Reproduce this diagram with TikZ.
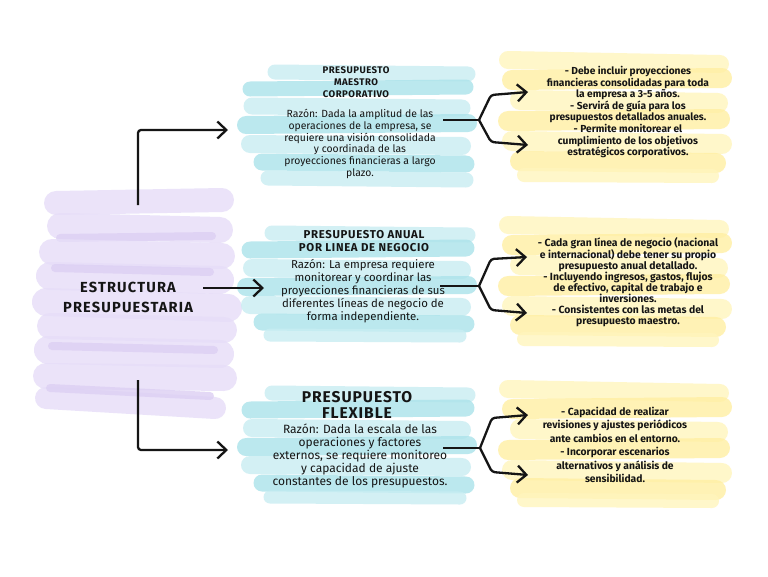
\documentclass[tikz,border=0pt]{standalone}
\usepackage{fontspec}
\setmainfont{Fira Sans}
\usetikzlibrary{arrows.meta,calc}
\definecolor{lav}{HTML}{E6DDF8}
\definecolor{lav2}{HTML}{DCCFF3}
\definecolor{aqua}{HTML}{C8EDF2}
\definecolor{aqua2}{HTML}{ABE3EA}
\definecolor{ylw}{HTML}{FFF5BD}
\definecolor{ylw2}{HTML}{FFEFA3}
\definecolor{ink}{HTML}{151515}
\begin{document}
\begin{tikzpicture}[x=1pt,y=-1pt,
  stripe/.style={line width=#1, line cap=round, opacity=.8},
  conn/.style={draw=ink, line width=2.3pt, rounded corners=3pt},
  arr/.style={conn, -{Straight Barb[length=9pt,width=17pt,line width=2.3pt]}},
  txt/.style={text=ink, align=center, inner sep=0pt}]
\useasboundingbox (0,0) rectangle (768,576);
\fill[white] (0,0) rectangle (768,576);

% purple brush block
\draw[stripe=24pt, lav] (56,203) -- (222,200);
\draw[stripe=26pt, lav] (60,226) -- (220,230);
\draw[stripe=8pt, lav2] (60,238) -- (212,236);
\draw[stripe=26pt, lav] (52,252) -- (222,256);
\draw[stripe=28pt, lav] (50,276) -- (220,280);
\draw[stripe=8pt, lav2] (55,268) -- (210,272);
\draw[stripe=28pt, lav] (46,302) -- (228,308);
\draw[stripe=26pt, lav] (50,326) -- (224,330);
\draw[stripe=28pt, lav] (48,350) -- (220,354);
\draw[stripe=8pt, lav2] (52,346) -- (214,350);
\draw[stripe=26pt, lav] (46,376) -- (224,378);
\draw[stripe=22pt, lav] (46,398) -- (215,408);
\draw[stripe=8pt, lav2] (50,388) -- (210,396);

% teal block 1
\draw[stripe=15pt, aqua] (275,72) -- (468,74);
\draw[stripe=15pt, aqua2] (250,89) -- (466,87);
\draw[stripe=17pt, aqua] (252,106) -- (462,108);
\draw[stripe=18pt, aqua2] (246,125) -- (468,123);
\draw[stripe=18pt, aqua] (250,144) -- (462,146);
\draw[stripe=17pt, aqua2] (262,162) -- (466,164);
\draw[stripe=15pt, aqua] (268,178) -- (466,180);
% teal block 2
\draw[stripe=15pt, aqua] (272,233) -- (468,235);
\draw[stripe=17pt, aqua2] (250,250) -- (466,248);
\draw[stripe=18pt, aqua] (252,268) -- (462,270);
\draw[stripe=18pt, aqua2] (246,287) -- (468,285);
\draw[stripe=18pt, aqua] (250,305) -- (462,307);
\draw[stripe=17pt, aqua2] (262,322) -- (466,324);
\draw[stripe=13pt, aqua] (270,335) -- (460,336);
% teal block 3
\draw[stripe=15pt, aqua] (272,393) -- (468,395);
\draw[stripe=17pt, aqua2] (250,410) -- (466,408);
\draw[stripe=18pt, aqua] (252,428) -- (462,430);
\draw[stripe=18pt, aqua2] (246,447) -- (468,445);
\draw[stripe=18pt, aqua] (250,465) -- (462,467);
\draw[stripe=17pt, aqua2] (262,483) -- (466,485);
\draw[stripe=13pt, aqua] (270,497) -- (460,498);

% yellow block 1
\draw[stripe=18pt, ylw] (508,60) -- (720,64);
\draw[stripe=20pt, ylw2] (512,80) -- (722,78);
\draw[stripe=20pt, ylw] (520,100) -- (718,103);
\draw[stripe=20pt, ylw2] (508,121) -- (720,119);
\draw[stripe=20pt, ylw] (512,141) -- (722,144);
\draw[stripe=20pt, ylw2] (520,161) -- (716,163);
\draw[stripe=14pt, ylw] (524,175) -- (712,176);
% yellow block 2
\draw[stripe=18pt, ylw] (508,225) -- (720,229);
\draw[stripe=20pt, ylw2] (512,245) -- (722,243);
\draw[stripe=20pt, ylw] (520,265) -- (718,268);
\draw[stripe=20pt, ylw2] (508,286) -- (720,284);
\draw[stripe=20pt, ylw] (512,306) -- (722,309);
\draw[stripe=20pt, ylw2] (520,325) -- (716,327);
\draw[stripe=14pt, ylw] (524,339) -- (712,340);
% yellow block 3
\draw[stripe=18pt, ylw] (508,389) -- (720,393);
\draw[stripe=20pt, ylw2] (512,409) -- (722,407);
\draw[stripe=20pt, ylw] (520,429) -- (718,432);
\draw[stripe=20pt, ylw2] (508,450) -- (720,448);
\draw[stripe=20pt, ylw] (512,470) -- (722,473);
\draw[stripe=20pt, ylw2] (520,488) -- (716,490);
\draw[stripe=14pt, ylw] (524,500) -- (712,501);

% root
\node[txt, font=\bfseries\fontsize{14.6}{20}\selectfont\addfontfeature{LetterSpace=8}] (root) at (128,297) {ESTRUCTURA\\PRESUPUESTARIA};

% teal texts
\node[txt, font=\bfseries\fontsize{9.6}{11.7}\selectfont\addfontfeature{LetterSpace=5}] (t1h) at (356,82) {PRESUPUESTO\\MAESTRO\\CORPORATIVO};
\node[txt, font=\fontsize{10.4}{11.7}\selectfont] (t1b) at (360,144) {Razón: Dada la amplitud de las\\operaciones de la empresa, se\\requiere una visión consolidada\\y coordinada de las\\proyecciones financieras a largo\\plazo.};

\node[txt, font=\bfseries\fontsize{11.4}{12.5}\selectfont\addfontfeature{LetterSpace=6}] (t2h) at (364,241) {PRESUPUESTO ANUAL\\POR LINEA DE NEGOCIO};
\node[txt, font=\fontsize{11.4}{13.1}\selectfont] (t2b) at (363,291) {Razón: La empresa requiere\\monitorear y coordinar las\\proyecciones financieras de sus\\diferentes líneas de negocio de\\forma independiente.};

\node[txt, font=\bfseries\fontsize{15.6}{16.5}\selectfont\addfontfeature{LetterSpace=6}] (t3h) at (357,405) {PRESUPUESTO\\FLEXIBLE};
\node[txt, font=\fontsize{12}{13}\selectfont] (t3b) at (360,456) {Razón: Dada la escala de las\\operaciones y factores\\externos, se requiere monitoreo\\y capacidad de ajuste\\constantes de los presupuestos.};

% yellow texts
\node[txt, font=\bfseries\fontsize{10.2}{11.6}\selectfont] (y1) at (628,112) {- Debe incluir proyecciones\\financieras consolidadas para toda\\la empresa a 3-5 años.\\- Servirá de guía para los\\presupuestos detallados anuales.\\- Permite monitorear el\\cumplimiento de los objetivos\\estratégicos corporativos.};
\node[txt, font=\bfseries\fontsize{10.4}{11}\selectfont] (y2) at (628,282) {- Cada gran línea de negocio (nacional\\e internacional) debe tener su propio\\presupuesto anual detallado.\\- Incluyendo ingresos, gastos, flujos\\de efectivo, capital de trabajo e\\inversiones.\\- Consistentes con las metas del\\presupuesto maestro.};
\node[txt, font=\bfseries\fontsize{10.3}{13.5}\selectfont] (y3) at (615,445) {- Capacidad de realizar\\revisiones y ajustes periódicos\\ante cambios en el entorno.\\- Incorporar escenarios\\alternativos y análisis de\\sensibilidad.};

% connector coordinates
\coordinate (rtop) at (138,205);
\coordinate (rbot) at (138,380);
\coordinate (rmid) at (203,288);
\coordinate (a1) at (228,130);
\coordinate (a2) at (264,288);
\coordinate (a3) at (228,450);
\coordinate (f1s) at (443,120);
\coordinate (f1j) at (479,120);
\coordinate (f1u) at (528,92);
\coordinate (f1d) at (528,145);
\coordinate (f2s) at (440,286);
\coordinate (f2j) at (479,286);
\coordinate (f2u) at (527,257);
\coordinate (f2d) at (527,313);
\coordinate (f3s) at (443,448);
\coordinate (f3j) at (480,448);
\coordinate (f3u) at (528,415);
\coordinate (f3d) at (528,475);

\draw[arr] (rtop) |- (a1);
\draw[arr] (rbot) |- (a3);
\draw[arr] (rmid) -- (a2);

\draw[conn] (f1s) -- (f1j);
\draw[arr] (f1j) -- ($(f1j)+(12,-25)$) -- (f1u);
\draw[arr] (f1j) -- ($(f1j)+(12,22)$) -- (f1d);
\draw[conn] (f2s) -- (f2j);
\draw[arr] (f2j) -- ($(f2j)+(12,-27)$) -- (f2u);
\draw[arr] (f2j) -- ($(f2j)+(12,24)$) -- (f2d);
\draw[conn] (f3s) -- (f3j);
\draw[arr] (f3j) -- ($(f3j)+(12,-30)$) -- (f3u);
\draw[arr] (f3j) -- ($(f3j)+(12,24)$) -- (f3d);
\end{tikzpicture}
\end{document}
